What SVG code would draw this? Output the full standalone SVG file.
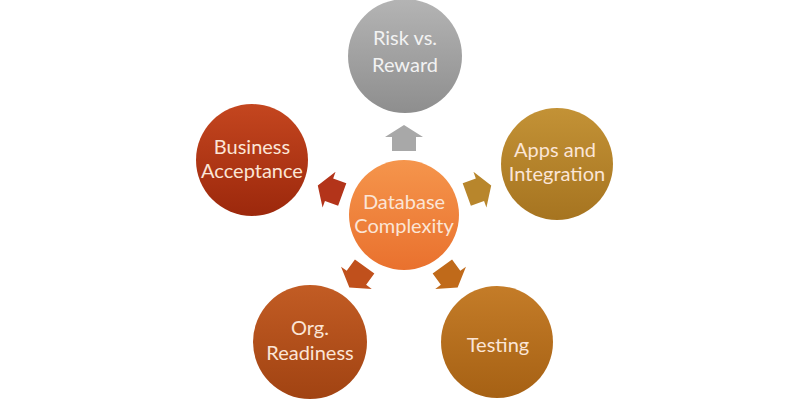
<svg xmlns="http://www.w3.org/2000/svg" width="800" height="400" viewBox="0 0 800 400">
<defs>
<linearGradient id="gGray" x1="0" y1="0" x2="0" y2="1"><stop offset="0" stop-color="#b4b4b4"/><stop offset="1" stop-color="#8e8e8e"/></linearGradient>
<linearGradient id="gRed" x1="0" y1="0" x2="0" y2="1"><stop offset="0" stop-color="#c4461f"/><stop offset="1" stop-color="#9c280c"/></linearGradient>
<linearGradient id="gCenter" x1="0" y1="0" x2="0" y2="1"><stop offset="0" stop-color="#f5954c"/><stop offset="1" stop-color="#e9712e"/></linearGradient>
<linearGradient id="gGold" x1="0" y1="0" x2="0" y2="1"><stop offset="0" stop-color="#c39236"/><stop offset="1" stop-color="#a67420"/></linearGradient>
<linearGradient id="gRust" x1="0" y1="0" x2="0" y2="1"><stop offset="0" stop-color="#c25c24"/><stop offset="1" stop-color="#a14312"/></linearGradient>
<linearGradient id="gAmber" x1="0" y1="0" x2="0" y2="1"><stop offset="0" stop-color="#c47c28"/><stop offset="1" stop-color="#a66114"/></linearGradient>
<polygon id="arr" points="13,0 1,19 1,12 -13,12 -13,-12 1,-12 1,-19"/>
</defs>
<style>
text{font-family:Lato,"Open Sans","Liberation Sans",sans-serif;font-size:20px;text-anchor:middle;fill:#fbe5d6}
.lt{fill:#f2f2f2}
</style>
<rect width="800" height="400" fill="#ffffff"/>
<g id="connectors">
<use href="#arr" transform="translate(404,138) rotate(-90)" fill="#a8a8a8"/>
<use href="#arr" transform="translate(330,190) rotate(200)" fill="#b3341a"/>
<use href="#arr" transform="translate(479,190) rotate(-20)" fill="#b8862c"/>
<use href="#arr" transform="translate(357,277) rotate(126)" fill="#c0501c"/>
<use href="#arr" transform="translate(450,277) rotate(54)" fill="#c06a1a"/>
</g>
<g id="risk">
<circle cx="405" cy="56" r="57" fill="url(#gGray)"/>
<text class="lt" x="405" y="45">Risk vs.</text>
<text class="lt" x="405" y="72">Reward</text>
</g>
<g id="business">
<circle cx="252" cy="160" r="56" fill="url(#gRed)"/>
<text x="252" y="154">Business</text>
<text x="252" y="178">Acceptance</text>
</g>
<g id="center">
<circle cx="404" cy="215" r="55" fill="url(#gCenter)"/>
<text x="404" y="209">Database</text>
<text x="404" y="233">Complexity</text>
</g>
<g id="apps">
<circle cx="557" cy="164" r="56" fill="url(#gGold)"/>
<text x="555" y="157">Apps and</text>
<text x="557" y="181">Integration</text>
</g>
<g id="org">
<circle cx="310" cy="342" r="57" fill="url(#gRust)"/>
<text x="310" y="335">Org.</text>
<text x="310" y="360">Readiness</text>
</g>
<g id="testing">
<circle cx="497" cy="342" r="56" fill="url(#gAmber)"/>
<text x="498" y="352">Testing</text>
</g>
</svg>
